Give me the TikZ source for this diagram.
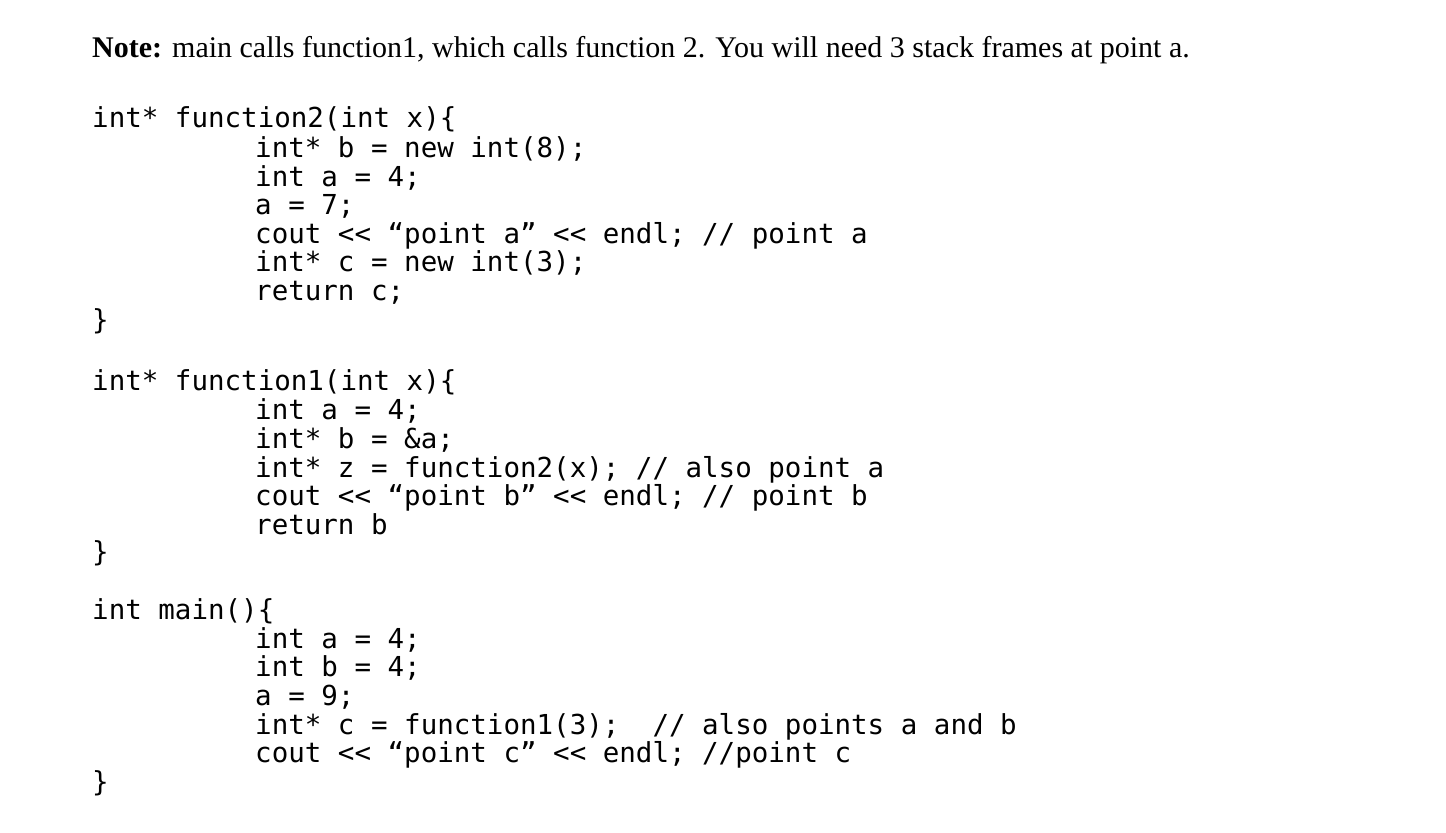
\documentclass[tikz,border=0pt]{standalone}
\usepackage{fontspec}
\setmainfont{Liberation Serif}
\setmonofont{DejaVu Sans Mono}
\begin{document}
\begin{tikzpicture}[x=1bp,y=-1bp,
  code/.style={anchor=base west,inner sep=0pt,font=\fontsize{27.5bp}{29bp}\selectfont\ttfamily},
  title/.style={anchor=base west,inner sep=0pt,font=\fontsize{30bp}{34bp}\selectfont}]
\useasboundingbox[fill=white] (0,0) rectangle (1446,832);
\node[title] (t) at (92,57) {\textbf{Note:} main calls function1, which calls function 2. You will need 3 stack frames at point a.};
\def\L#1#2#3#4{\node[code] (#1) at (#2,#3) {#4};}
\L{a0}{92}{127}{int* function2(int x)\{}
\L{a1}{255}{157}{int* b = new int(8);}
\L{a2}{255}{186}{int a = 4;}
\L{a3}{255}{214}{a = 7;}
\L{a4}{255}{243}{cout << “point a” << endl; // point a}
\L{a5}{255}{271}{int* c = new int(3);}
\L{a6}{255}{300}{return c;}
\L{a7}{92}{329}{\}}
\L{b0}{92}{390}{int* function1(int x)\{}
\L{b1}{255}{419}{int a = 4;}
\L{b2}{255}{448}{int* b = \&a;}
\L{b3}{255}{477}{int* z = function2(x); // also point a}
\L{b4}{255}{505}{cout << “point b” << endl; // point b}
\L{b5}{255}{534}{return b}
\L{b6}{92}{561}{\}}
\L{c0}{92}{619}{int main()\{}
\L{c1}{255}{648}{int a = 4;}
\L{c2}{255}{676}{int b = 4;}
\L{c3}{255}{705}{a = 9;}
\L{c4}{255}{734}{int* c = function1(3);~~// also points a and b}
\L{c5}{255}{762}{cout << “point c” << endl; //point c}
\L{c6}{92}{791}{\}}
\end{tikzpicture}
\end{document}
